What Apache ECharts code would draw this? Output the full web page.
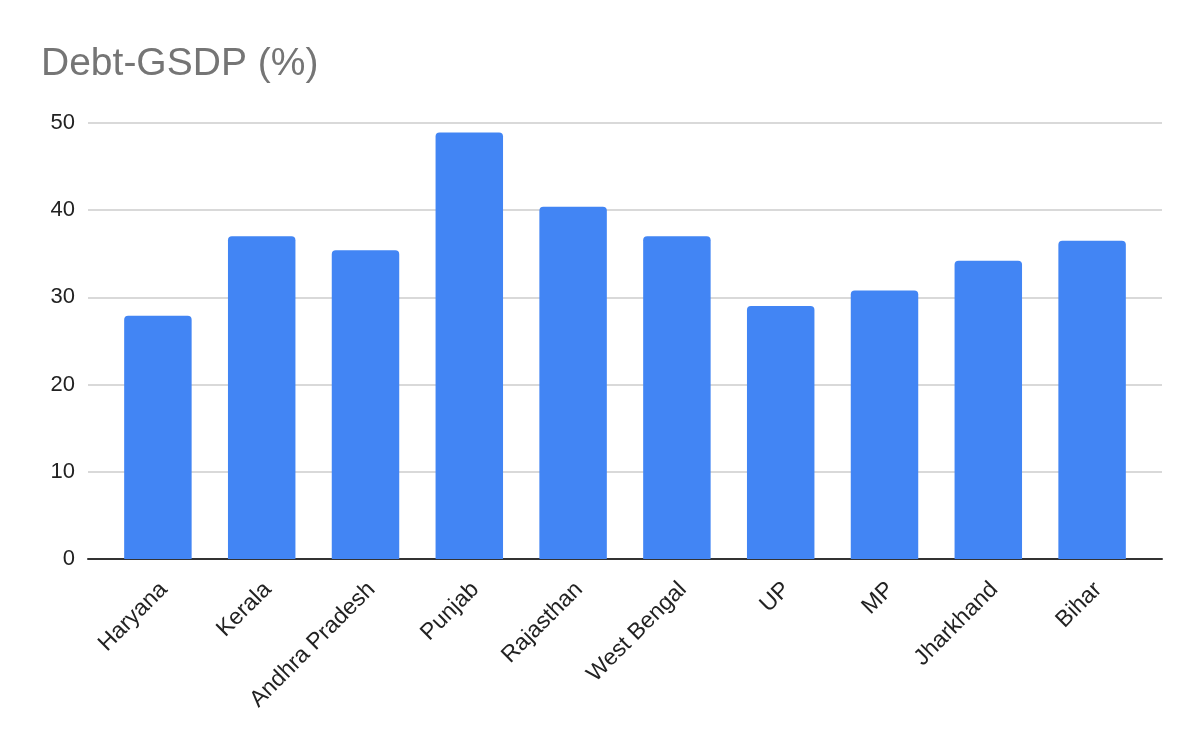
<!DOCTYPE html>
<html>
<head>
<meta charset="utf-8">
<script src="https://cdn.jsdelivr.net/npm/echarts@6/dist/echarts.min.js"></script>
<style>html,body{margin:0;padding:0;background:#fff}#c{width:1200px;height:742px}</style>
</head>
<body>
<div id="c"></div>
<script>
const categories = ["Haryana", "Kerala", "Andhra Pradesh", "Punjab", "Rajasthan", "West Bengal", "UP", "MP", "Jharkhand", "Bihar"];
const debtGsdp = [27.9, 37.0, 35.4, 48.9, 40.4, 37.0, 29.0, 30.8, 34.2, 36.5];
const yTicks = [0, 10, 20, 30, 40, 50];

const chart = echarts.init(document.getElementById('c'), null, {renderer: 'canvas'});
const FONT = '"Liberation Sans", Arial, sans-serif';
chart.setOption({
  animation: false,
  backgroundColor: '#ffffff',
  title: {
    text: 'Debt-GSDP (%)',
    left: 36, top: 40,
    textStyle: {fontFamily: FONT, fontSize: 39, fontWeight: 'normal', color: '#757575'}
  },
  grid: [
    {left: 88, right: 38, top: 123, bottom: 183, containLabel: false},
    {left: 106, right: 56, top: 123, bottom: 183, containLabel: false},
    {left: 112, right: 50, top: 123, bottom: 183, containLabel: false}
  ],
  xAxis: [
    {type: 'category', gridIndex: 0, data: categories,
     axisLine: {show: true, lineStyle: {color: '#333333', width: 2}},
     axisTick: {show: false}, axisLabel: {show: false}, splitLine: {show: false}},
    {type: 'category', gridIndex: 1, data: categories,
     axisLine: {show: false}, axisTick: {show: false}, axisLabel: {show: false}},
    {type: 'category', gridIndex: 2, data: categories,
     axisLine: {show: false}, axisTick: {show: false},
     axisLabel: {rotate: 45, margin: 27, fontFamily: FONT, fontSize: 23, color: '#222222', interval: 0}}
  ],
  yAxis: [
    {type: 'value', gridIndex: 0, min: yTicks[0], max: yTicks[yTicks.length - 1], interval: 10,
     axisLine: {show: false}, axisTick: {show: false},
     axisLabel: {margin: 13, fontFamily: FONT, fontSize: 22, color: '#222222',
       formatter: v => yTicks.includes(v) ? String(v) : ''},
     splitLine: {show: true, lineStyle: {color: '#cccccc', width: 1.5}}},
    {type: 'value', gridIndex: 1, min: yTicks[0], max: yTicks[yTicks.length - 1], interval: 10,
     show: false, splitLine: {show: false}},
    {type: 'value', gridIndex: 2, min: yTicks[0], max: yTicks[yTicks.length - 1], interval: 10,
     show: false, splitLine: {show: false}}
  ],
  series: [{
    type: 'bar', xAxisIndex: 1, yAxisIndex: 1,
    data: debtGsdp, barWidth: '65%',
    itemStyle: {color: '#4285F4', borderRadius: [4, 4, 0, 0]},
    z: 3
  }]
});
</script>
</body>
</html>
